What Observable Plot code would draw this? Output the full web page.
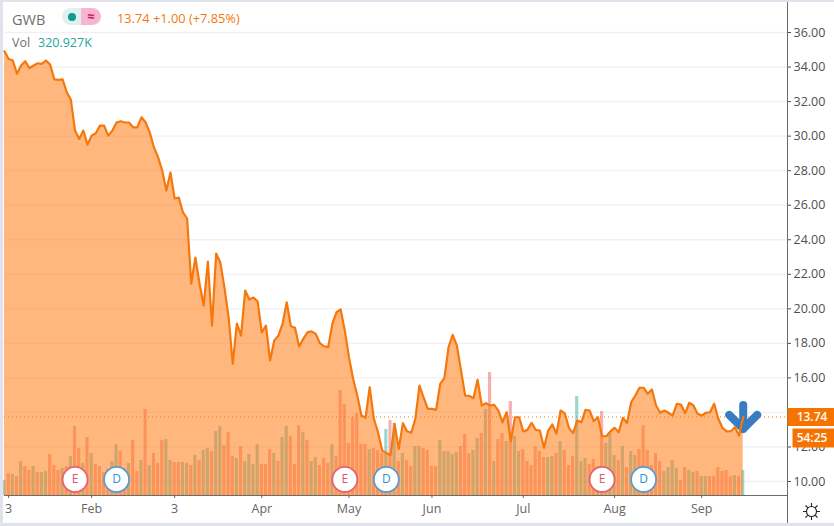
<!DOCTYPE html>
<html>
<head>
<meta charset="utf-8">
<script src="https://cdn.jsdelivr.net/npm/d3@7"></script>
<script src="https://cdn.jsdelivr.net/npm/@observablehq/plot@0.6"></script>
<style>
html,body{margin:0;padding:0;background:#fff;}
#wrap{position:relative;width:834px;height:526px;overflow:hidden;background:#fff;box-sizing:border-box;
  border-left:3px solid #e0e3eb;border-top:2px solid #e0e3eb;border-bottom:3px solid #e0e3eb;font-family:"Open Sans",sans-serif;}
#chart{position:absolute;left:-3px;top:-2px;}
#chart svg{background:transparent;display:block;}
.h{position:absolute;white-space:nowrap;line-height:1.2;}
#pill{position:absolute;left:59px;top:6px;width:39px;height:17px;display:flex;}
#pill .a{width:19px;background:#dff1ef;position:relative;border-radius:9px 0 0 9px;}
#pill .a i{position:absolute;left:6px;top:4.5px;width:8px;height:8px;border-radius:50%;background:#0f9a8a;}
#pill .b{flex:1;background:#f7b5cf;color:#c2185b;font-size:13px;font-weight:700;text-align:center;line-height:16px;border-radius:0 9px 9px 0;}
</style>
</head>
<body>
<div id="wrap">
  <div id="chart"></div>
  <div class="h" style="left:9px;top:9px;font-size:14.5px;color:#6f6f6f;">GWB</div>
  <div id="pill"><div class="a"><i></i></div><div class="b">≈</div></div>
  <div class="h" style="left:114px;top:9px;font-size:12.8px;color:#f6780c;">13.74 +1.00 (+7.85%)</div>
  <div class="h" style="left:9px;top:33px;font-size:12.5px;color:#6f6f6f;">Vol</div>
  <div class="h" style="left:35px;top:33px;font-size:12.5px;color:#26a69a;">320.927K</div>
</div>
<script>
const closes = [34.91,34.47,34.38,33.61,34.09,34.34,33.93,34.09,34.22,34.18,
34.38,34.14,33.29,33.26,33.29,32.54,32.10,30.32,29.84,30.32,
29.51,30.03,30.17,30.61,30.61,30.03,30.32,30.79,30.86,30.79,
30.79,30.51,30.51,31.09,30.80,30.22,29.36,28.78,28.01,26.85,
27.89,26.39,26.44,25.58,25.23,21.46,22.97,21.46,20.19,22.74,
19.03,23.20,22.68,21.23,19.50,16.83,19.15,18.45,21.06,20.54,
20.65,20.42,18.63,19.03,17.01,18.16,18.45,19.13,20.38,18.99,
18.90,17.82,18.26,18.64,18.69,18.55,18.01,17.83,17.78,19.13,
19.80,19.96,18.74,17.20,15.95,14.98,13.82,13.69,15.46,13.63,
12.85,11.79,11.66,11.51,13.34,11.89,13.38,12.91,12.82,13.63,
15.56,14.85,14.21,14.21,14.15,15.66,16.00,17.78,18.49,17.87,
16.43,14.98,14.96,14.82,15.89,14.40,14.53,14.40,14.44,14.11,
13.43,14.01,12.33,13.72,13.72,12.90,12.99,13.40,12.99,12.95,
11.95,12.95,13.30,12.76,14.11,13.95,13.11,12.80,13.53,13.43,
14.15,14.11,13.49,13.72,12.62,12.62,12.90,13.11,12.85,13.69,
13.38,14.59,14.98,15.43,15.43,15.08,15.33,14.40,13.98,14.11,
13.98,13.82,14.50,14.46,13.95,14.56,14.40,13.92,13.82,13.98,
14.01,14.50,13.63,13.11,12.90,12.91,13.14,12.66,13.74];

const volumesK = [192,282,269,243,435,371,320,371,294,294,
307,525,384,320,346,371,499,883,602,410,
742,538,397,371,294,333,435,653,563,346,
410,704,307,448,1101,384,538,410,704,717,
448,422,422,422,410,384,512,448,576,602,
563,819,883,640,806,499,474,627,435,525,
397,653,397,397,589,538,435,742,883,755,
397,896,806,704,435,486,384,474,410,653,
499,1344,1165,666,998,1050,653,653,589,602,
576,538,845,960,922,435,538,448,371,627,
627,602,576,371,371,704,563,563,525,550,
627,781,538,576,730,794,1101,1574,435,717,
794,691,1203,755,563,589,435,384,627,563,
486,486,499,538,691,576,384,499,1267,435,
474,397,461,371,1075,666,794,512,448,627,
358,563,512,589,896,576,384,538,435,307,
358,448,346,192,358,320,294,307,243,243,
243,243,358,307,320,243,256,243,321];

const volumeUp = [1,0,1,0,1,0,0,1,0,1,
1,0,0,0,1,0,1,0,0,1,
0,1,0,0,0,0,1,1,0,0,
1,0,0,1,0,1,0,0,0,1,
1,0,0,1,1,0,1,0,1,1,
0,1,1,0,0,0,1,0,1,1,
1,1,0,0,0,1,0,1,1,0,
0,0,1,0,1,1,0,0,0,1,
0,0,0,0,0,0,0,0,1,0,
0,0,1,0,1,0,1,0,0,1,
1,0,0,0,0,1,1,1,1,1,
0,0,0,1,1,0,1,0,1,0,
0,1,0,1,1,0,0,0,0,0,
0,1,1,0,1,0,0,0,1,1,
1,0,0,1,0,1,1,1,0,1,
0,1,1,0,0,0,0,0,0,1,
1,1,1,0,0,1,1,0,1,1,
0,0,0,0,0,0,1,0,1];

const yGrid = [10,12,14,16,18,20,22,24,26,28,30,32,34,36];
const yLabelled = [10,12,16,18,20,22,24,26,28,30,32,34,36];
const xTickIndex = [1,21,41,62,83,103,125,147,168];
const xTickLabels = ["3","Feb","3","Apr","May","Jun","Jul","Aug","Sep"];
const earnings = [17,82,144];
const dividends = [27,92,154];
const lastPrice = 13.74;
const countdownY = 12.52;
const markerY = 10.12;
const yFloor = 9.19, yCeil = 37.68;
const xEnd = 188.67;
const volumeScale = 1 / (12.8 * 17.27);

const rows = closes.map((c, i) => ({i, c, v: volumesK[i], up: volumeUp[i]}));

const box = (x0, x1, h) => ({draw(c){ c.moveTo(x0,-h); c.lineTo(x1,-h); c.lineTo(x1,h); c.lineTo(x0,h); c.closePath(); }});
const arrow = {draw(c){
  c.moveTo(0,-12); c.lineTo(0,12);
  c.moveTo(-14,-2); c.lineTo(0,12); c.lineTo(14,-2);
}};
const sun = {draw(c){
  c.moveTo(5,0); c.arc(0,0,5,0,2*Math.PI);
  for(let k=0;k<8;k++){const a=k*Math.PI/4; c.moveTo(5*Math.cos(a),5*Math.sin(a)); c.lineTo(8.5*Math.cos(a),8.5*Math.sin(a));}
}};

const orange = "#f6780c";
const plot = Plot.plot({
  width: 834, height: 526,
  marginTop: 3, marginBottom: 31, marginLeft: 4, marginRight: 47,
  x: {type: "linear", domain: [0, xEnd]},
  y: {type: "linear", domain: [yFloor, yCeil]},
  style: {fontFamily: '"Open Sans",sans-serif', background: "transparent"},
  marks: [
    Plot.ruleY(yGrid, {stroke: "#eff1f6", strokeWidth: 1.3}),
    Plot.rect(rows, {
      x1: d => d.i - 0.38, x2: d => d.i + 0.38,
      y1: yFloor, y2: d => yFloor + d.v * volumeScale,
      fill: d => d.up ? "#26a69a" : "#ef5350", fillOpacity: 0.46
    }),
    Plot.areaY(rows, {x: "i", y1: yFloor, y2: "c", fill: "#ff7c14", fillOpacity: 0.55}),
    Plot.ruleY([lastPrice], {stroke: orange, strokeWidth: 1, strokeDasharray: "1 3"}),
    Plot.dot([{i: 178, c: lastPrice}], {x: "i", y: "c", symbol: arrow, fill: "none", stroke: "#3a7cc2", strokeWidth: 8, strokeLinecap: "round", strokeLinejoin: "round"}),
    Plot.line(rows, {x: "i", y: "c", stroke: orange, strokeWidth: 2.2, strokeLinejoin: "round"}),
    Plot.ruleY([yFloor], {stroke: "#6b6b6b", strokeWidth: 1}),
    Plot.ruleX([xEnd], {stroke: "#6b6b6b", strokeWidth: 1, insetBottom: -28, insetTop: -3}),
    Plot.axisY({anchor: "right", ticks: yLabelled, tickFormat: d => d.toFixed(2), tickSize: 3, tickPadding: 3, fontSize: 12.5, color: "#4f4f4f", label: null}),
    Plot.axisX({ticks: xTickIndex, tickFormat: d => xTickLabels[xTickIndex.indexOf(d)], tickSize: 3, tickPadding: 6, fontSize: 12.5, color: "#666", label: null}),
    Plot.dot([{i: xEnd, c: lastPrice}], {x: "i", y: "c", symbol: box(0,47,9), fill: "#f77300", stroke: "none"}),
    Plot.text([lastPrice.toFixed(2)], {x: xEnd, y: lastPrice, dx: 24.5, fill: "#fff", fontSize: 12, fontWeight: 600}),
    Plot.dot([{i: xEnd, c: countdownY}], {x: "i", y: "c", symbol: box(5,47,9.5), fill: "#f77300", stroke: "none"}),
    Plot.text(["54:25"], {x: xEnd, y: countdownY, dx: 24.5, fill: "#fff", fontSize: 12, fontWeight: 600}),
    Plot.dot(earnings, {x: d => d, y: markerY, r: 12.5, fill: "#fff", stroke: "#e5636f", strokeWidth: 1.8}),
    Plot.text(earnings, {x: d => d, y: markerY, text: () => "E", fill: "#e0576a", fontSize: 12}),
    Plot.dot(dividends, {x: d => d, y: markerY, r: 12.5, fill: "#fff", stroke: "#5b9bd0", strokeWidth: 1.8}),
    Plot.text(dividends, {x: d => d, y: markerY, text: () => "D", fill: "#2e8fd8", fontSize: 12}),
    Plot.dot([0], {frameAnchor: "bottom-right", dx: 24, dy: 16, symbol: sun, fill: "none", stroke: "#222", strokeWidth: 1.1})
  ]
});
document.getElementById("chart").appendChild(plot);
</script>
</body>
</html>
